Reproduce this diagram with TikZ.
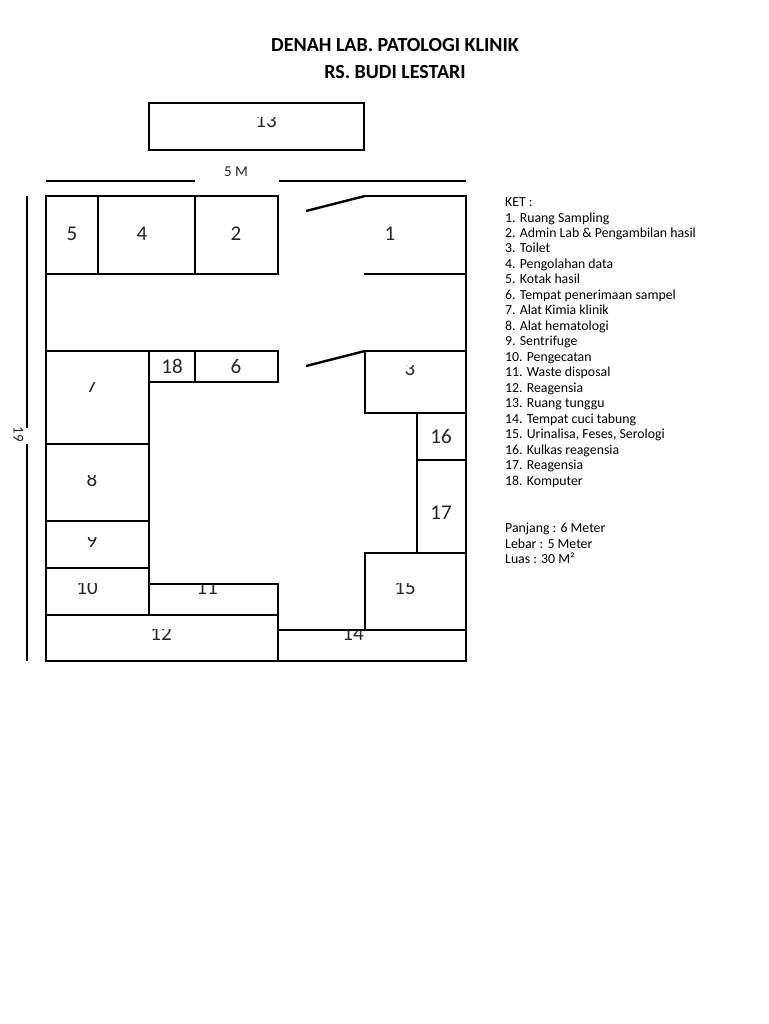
\documentclass[tikz,border=0pt]{standalone}
\usepackage{fontspec}
\setmainfont{Carlito}
\tikzset{
  wall/.style={draw=black, line width=2.4pt, line cap=rect},
  rule/.style={draw=black, line width=2.4pt},
  num/.style={font=\fontsize{21}{21}\selectfont, text=black!85, inner sep=0pt},
  ket/.style={font=\fontsize{13.8}{15.47}\selectfont, text=black, anchor=north west, align=left, inner sep=0pt},
  dim/.style={font=\fontsize{15}{15}\selectfont, text=black!85, inner sep=0pt},
  judul/.style={font=\bfseries\fontsize{20}{20}\selectfont, text=black}
}
% number cut off along its upper part
\newcommand{\cutnum}[4]{%
  \begin{scope}
  \clip (#2-25,#3) rectangle (#2+25,#3+25);
  \node[num] (n#1) at (#2,#4) {#1};
  \end{scope}}
\begin{document}
\begin{tikzpicture}[x=1pt,y=-1pt]
\useasboundingbox (0,0) rectangle (768,1024);
% title
\node[judul] (judulA) at (395,45) {DENAH LAB. PATOLOGI KLINIK};
\node[judul] (judulB) at (395,72) {RS. BUDI LESTARI};
% ruang tunggu
\draw[wall] (149,103) rectangle (364,150);
% size lines
\draw[rule] (46,181) -- (195,181);
\draw[rule] (279,181) -- (466,181);
\node[dim] (lebar) at (236,172) {5 M};
\draw[rule] (27,196) -- (27,428);
\draw[rule] (27,444) -- (27,661);
\node[dim, rotate=-90] (panjang) at (18.5,434) {19};
% outer walls
\draw[wall] (278,196) -- (46,196) -- (46,661) -- (466,661) -- (466,196) -- (365,196);
% doors
\draw[rule] (306,211) -- (365,196);
\draw[rule] (306,366) -- (365,351);
% top row
\draw[wall] (98,196) -- (98,274);
\draw[wall] (195,196) -- (195,274);
\draw[wall] (278,196) -- (278,274) -- (46,274);
\draw[wall] (365,274) -- (466,274);
% left side
\draw[wall] (46,351) -- (278,351) -- (278,382) -- (149,382);
\draw[wall] (195,351) -- (195,382);
\draw[wall] (149,351) -- (149,615);
\draw[wall] (46,444) -- (149,444);
\draw[wall] (46,521) -- (149,521);
\draw[wall] (46,568) -- (149,568);
\draw[wall] (149,584) -- (278,584) -- (278,661);
\draw[wall] (46,615) -- (278,615);
% right side
\draw[wall] (466,351) -- (365,351) -- (365,413) -- (466,413);
\draw[wall] (417,413) -- (417,553);
\draw[wall] (417,460) -- (466,460);
\draw[wall] (466,553) -- (365,553) -- (365,630);
\draw[wall] (278,630) -- (466,630);
% numbers
\node[num] (n1) at (390,234) {1};
\node[num] (n2) at (236,234) {2};
\node[num] (n4) at (142,234) {4};
\node[num] (n5) at (72,234) {5};
\node[num] (n6) at (236,366) {6};
\node[num] (n18) at (172,366) {18};
\node[num] (n16) at (441,436) {16};
\node[num] (n17) at (441,513) {17};
\cutnum{13}{266}{117.5}{121}
\cutnum{3}{410}{365.5}{369}
\cutnum{7}{92}{382}{385.5}
\cutnum{8}{92}{475.5}{479}
\cutnum{9}{92}{537.5}{540.5}
\cutnum{10}{87}{583.5}{587.5}
\cutnum{11}{207}{585.5}{587.5}
\cutnum{12}{161}{629.5}{633.5}
\cutnum{14}{353}{631.5}{633.5}
\cutnum{15}{405}{583.5}{587.5}
% legend
\node[ket] (keterangan) at (505,197.5) {KET :\\
1. Ruang Sampling\\
2. Admin Lab \& Pengambilan hasil\\
3. Toilet\\
4. Pengolahan data\\
5. Kotak hasil\\
6. Tempat penerimaan sampel\\
7. Alat Kimia klinik\\
8. Alat hematologi\\
9. Sentrifuge\\
10. Pengecatan\\
11. Waste disposal\\
12. Reagensia\\
13. Ruang tunggu\\
14. Tempat cuci tabung\\
15. Urinalisa, Feses, Serologi\\
16. Kulkas reagensia\\
17. Reagensia\\
18. Komputer};
\node[ket] (ukuran) at (505,523) {Panjang : 6 Meter\\
Lebar : 5 Meter\\
Luas : 30 M²};
\end{tikzpicture}
\end{document}
